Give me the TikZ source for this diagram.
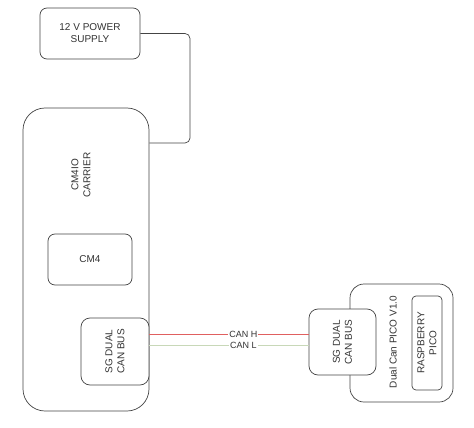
\documentclass[tikz,border=0pt]{standalone}
\usepackage{fontspec}
\setmainfont{Liberation Sans}
\begin{document}
\begin{tikzpicture}[x=1pt,y=-1pt,
  box/.style={draw=linec, line width=0.7pt, rectangle, fill=white, inner sep=0pt},
  lbl/.style={text=textc, font=\fontsize{10}{12}\selectfont, align=center, inner sep=0pt},
  canl/.style={text=textc, font=\fontsize{9}{11}\selectfont, fill=white, inner sep=1pt}]
\definecolor{linec}{HTML}{444444}
\definecolor{textc}{HTML}{333333}
\definecolor{canhc}{HTML}{E06060}
\definecolor{canlc}{HTML}{C8D8B8}
\useasboundingbox (0,0) rectangle (474,428);
% boxes
\node[box, minimum width=100pt, minimum height=51pt, rounded corners=7pt] (ps) at (90,33.5) {};
\node[lbl] (pst) at (ps.center) {12 V POWER\\SUPPLY};
\node[box, minimum width=126pt, minimum height=303pt, rounded corners=22pt] (car) at (86,259.5) {};
\node[lbl, rotate=90] (cart) at (81,175) {CM4IO\\CARRIER};
\node[box, minimum width=84pt, minimum height=51pt, rounded corners=7pt] (cm4) at (90,259.5) {};
\node[lbl] (cm4t) at (cm4.center) {CM4};
\node[box, minimum width=68pt, minimum height=67pt, rounded corners=9pt] (sgl) at (115,351.5) {};
\node[lbl, rotate=90] (sglt) at (sgl.center) {SG DUAL\\CAN BUS};
\node[box, minimum width=103pt, minimum height=118pt, rounded corners=14pt] (dcp) at (401.5,343) {};
\node[lbl, rotate=90] (dcpt) at (393,342) {Dual Can PICO V1.0};
\node[box, minimum width=30pt, minimum height=94pt, rounded corners=4pt] (rp) at (427,343) {};
\node[lbl, rotate=90] (rpt) at (rp.center) {RASPBERRY\\PICO};
\node[box, minimum width=67pt, minimum height=66pt, rounded corners=9pt] (sgr) at (342.5,342) {};
\node[lbl, rotate=90] (sgrt) at (sgr.center) {SG DUAL\\CAN BUS};
% power connector
\coordinate (pc) at (190,143);
\draw[linec, line width=0.7pt, rounded corners=5pt] (ps.east) -| (pc) -- (car.east |- pc);
% CAN lines
\coordinate (hy) at (0,334.5);
\coordinate (ly) at (0,345.5);
\draw[canhc, line width=0.7pt] (sgl.east |- hy) -- node[canl, pos=0.59] (canh) {CAN H} (sgr.west |- hy);
\draw[canlc, line width=0.7pt] (sgl.east |- ly) -- node[canl, pos=0.59] (canlt) {CAN L} (sgr.west |- ly);
\end{tikzpicture}
\end{document}
